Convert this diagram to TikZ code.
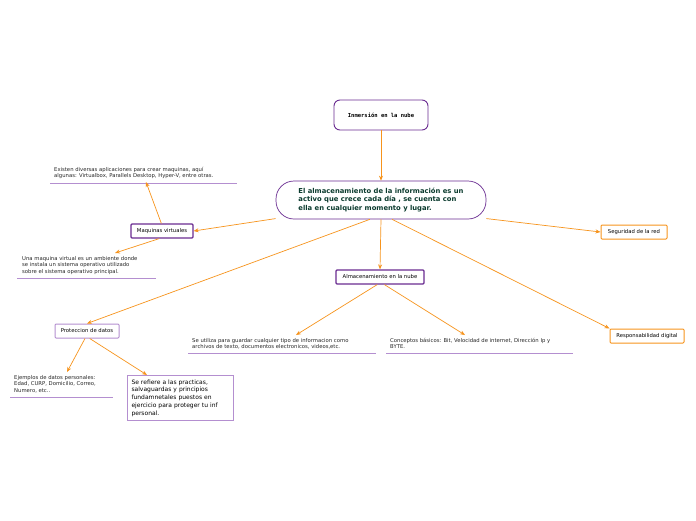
\documentclass[tikz,border=0pt]{standalone}
\usepackage{fontspec}
\setmainfont{DejaVu Sans}
\setmonofont{DejaVu Sans Mono}
\usetikzlibrary{arrows.meta}
\definecolor{pur}{HTML}{6A2C91}
\definecolor{lpur}{HTML}{B48FD0}
\definecolor{org}{HTML}{F7941D}
\definecolor{dgreen}{HTML}{0B3B2E}
\tikzset{
 x=1pt,y=-1pt,
 conn/.style={org,line width=0.7pt,-{Stealth[length=5pt,width=4pt]}},
 topic/.style={draw,rounded corners=1pt,minimum height=14pt,inner sep=2pt,font=\fontsize{5.3}{6}\selectfont,text=black},
 note/.style={anchor=north west,align=left,inner sep=0pt,font=\fontsize{5.3}{6.4}\selectfont,text=black!85},
 uline/.style={lpur,line width=1pt}
}
\begin{document}
\begin{tikzpicture}
\useasboundingbox[fill=white] (0,0) rectangle (696,520);
\node[draw=pur,line width=0.9pt,rounded corners=6pt,minimum width=94pt,minimum height=30pt,font=\ttfamily\bfseries\fontsize{5.5}{6}\selectfont] (title) at (381,115) {Inmersión en la nube};
\node[draw=pur,line width=0.7pt,rounded corners=18pt,minimum width=210pt,minimum height=38pt,align=left,text=dgreen,font=\bfseries\fontsize{6.8}{8.6}\selectfont] (main) at (381,200) {El almacenamiento de la información es un\\activo que crece cada día , se cuenta con\\ella en cualquier momento  y lugar.};
\node[topic,draw=pur,line width=1.2pt,minimum width=62pt] (mv) at (162,231) {Maquinas virtuales};
\node[topic,draw=org,line width=1pt,minimum width=66pt] (seg) at (634,232) {Seguridad de la red};
\node[topic,draw=pur,line width=1.2pt,minimum width=88pt] (alm) at (380,277) {Almacenamiento en la nube};
\node[topic,draw=org,line width=1pt,minimum width=74pt] (resp) at (647,336) {Responsabilidad digital};
\node[topic,draw=lpur,line width=1pt,minimum width=64pt] (prot) at (87,331) {Proteccion de datos};
\node[note] (exi) at (54,167) {Existen diversas aplicaciones para crear maquinas, aquí\\algunas: Virtualbox, Parallels Desktop, Hyper-V, entre otras.};
\draw[uline] (50,183) -- (237,183);
\node[note] (una) at (22,256) {Una maquina virtual es un ambiente donde\\se instala un sistema operativo utilizado\\sobre el sistema operativo principal.};
\draw[uline] (17,278) -- (156,278);
\node[note] (uti) at (192,338) {Se utiliza para guardar cualquier tipo de informacion como\\archivos de texto, documentos electronicos, videos,etc.};
\draw[uline] (188,353) -- (376,353);
\node[note] (con) at (390,338) {Conceptos básicos: Bit, Velocidad de internet, Dirección Ip y\\BYTE.};
\draw[uline] (386,353) -- (573,353);
\node[note] (eje) at (14,375) {Ejemplos de datos personales:\\Edad, CURP, Domicilio, Correo,\\Numero, etc..};
\draw[uline] (10,397) -- (113,397);
\node[draw=lpur,line width=1pt,minimum width=106pt,minimum height=45pt,anchor=north west,text width=98pt,align=left,inner sep=4pt,font=\fontsize{6}{7.9}\selectfont] (ref) at (127,375) {Se refiere a las practicas,\\salvaguardas y principios\\fundamnetales puestos en\\ejercicio para proteger tu inf\\personal.};
\draw[conn] (title) -- (main);
\draw[conn] (main.190) -- (mv.east);
\draw[conn] (mv.95) -- (146,182);
\draw[conn] (mv.250) -- (115,253);
\draw[conn] (main.-10) -- (seg.west);
\draw[conn] (main.south) -- (alm.north);
\draw[conn] (main.-60) -- (resp.north west);
\draw[conn] (main.-120) -- (prot.north);
\draw[conn] (alm.-110) -- (296,335);
\draw[conn] (alm.-60) -- (465,335);
\draw[conn] (prot.-105) -- (67,372);
\draw[conn] (prot.-70) -- (ref.north west -| 147,375);
\end{tikzpicture}
\end{document}
